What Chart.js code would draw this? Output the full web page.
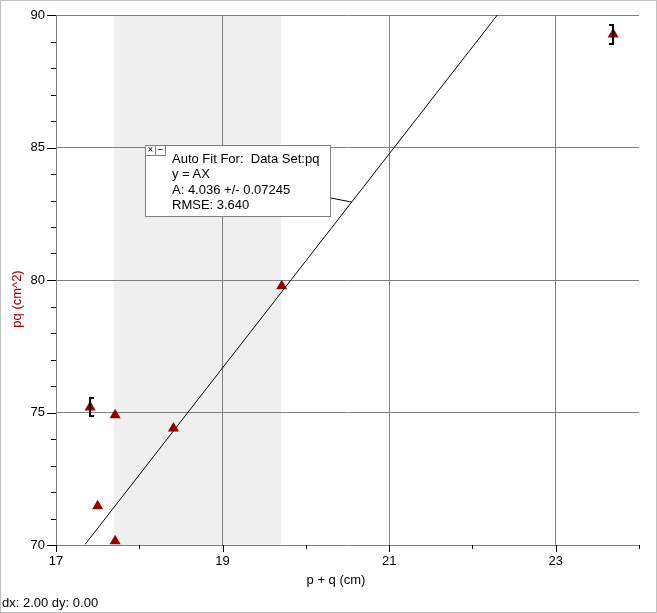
<!DOCTYPE html>
<html lang="en">
<head>
  <meta charset="UTF-8" />
  <title>pq vs p + q</title>
  <script src="https://cdn.jsdelivr.net/npm/chart.js"></script>
  <style>
    body {
      margin: 0;
      background: #fff;
      font-family: Arial, 'Liberation Sans', sans-serif;
    }
    #wrap {
      position: relative;
      width: 657px;
      height: 613px;
      overflow: hidden;
    }
    #frame {
      position: absolute;
      left: 0; top: 0; right: 0; bottom: 0;
      border: 1px solid #c0c0c0;
      pointer-events: none;
    }
    canvas {
      position: absolute;
      left: 0;
      top: 0;
    }
    /* Auto fit annotation */
    .fitbox {
      position: absolute;
      left: 145px;
      top: 145px;
      width: 186px;
      height: 72px;
      box-sizing: border-box;
      border: 1px solid #808080;
      background: #fff;
      font-size: 13px;
      color: #000;
    }
    .fitbox .btn {
      position: absolute;
      top: -1px;
      width: 9px;
      height: 9px;
      border: 1px solid #808080;
      background: #fff;
      font-size: 10px;
      line-height: 8px;
      text-align: center;
    }
    .fitbox .lines {
      position: absolute;
      left: 26px;
      top: 5px;
      line-height: 15.4px;
      white-space: pre;
    }
    .status {
      position: absolute;
      left: 2px;
      top: 595px;
      font-size: 13px;
      color: #000;
    }
  </style>
</head>
<body>
  <div id="wrap">
    <canvas id="chart" width="657" height="613"></canvas>
    <div class="fitbox">
      <div class="btn" style="left:-1px">×</div>
      <div class="btn" style="left:9px">−</div>
      <div class="lines">Auto Fit For:  Data Set:pq
y = AX
A: 4.036 +/- 0.07245
RMSE: 3.640</div>
    </div>
    <div class="status">dx: 2.00 dy: 0.00</div>
    <div id="frame"></div>
  </div>

  <script>
    // Data set pq
    const xValues = [17.41, 17.71, 18.41, 17.50, 17.71, 19.71, 23.69];
    const yValues = [75.20, 74.90, 74.40, 71.47, 70.15, 79.77, 89.27];
    const yErrors = [0.35, 0, 0, 0, 0, 0, 0.35];

    // Auto fit y = A*x
    const fitA = 4.036;
    const fitRangeX = [17.35, 22.3];
    const fitLabelAtX = 20.55;

    // Selected (shaded) x range
    const shadeRange = [17.7, 19.7];

    // Axes
    const xMin = 17, xMax = 24;
    const yMin = 70, yMax = 90;
    const xMajorTicks = [17, 19, 21, 23];
    const yMajorTicks = [70, 75, 80, 85, 90];

    const xTitle = 'p + q (cm)';
    const yTitle = 'pq (cm^2)';

    const points = xValues.map((x, i) => ({ x, y: yValues[i] }));
    const fitPoints = fitRangeX.map(x => ({ x, y: fitA * x }));

    // bracket caps: first one opens right, last one opens left
    const errCapDir = [1, 0, 0, 0, 0, 0, -1];

    const extras = {
      id: 'extras',
      beforeDraw(chart) {
        const { ctx, chartArea: a, scales: { x } } = chart;
        const x0 = Math.round(x.getPixelForValue(shadeRange[0]));
        const x1 = Math.round(x.getPixelForValue(shadeRange[1]));
        ctx.save();
        ctx.fillStyle = '#efefef';
        ctx.fillRect(x0, a.top, x1 - x0, a.bottom - a.top);
        ctx.restore();
      },
      afterDatasetsDraw(chart) {
        const { ctx, scales: { x, y } } = chart;
        ctx.save();
        ctx.strokeStyle = '#000';
        ctx.lineWidth = 2;
        yErrors.forEach((e, i) => {
          if (!e) return;
          const px = Math.round(x.getPixelForValue(xValues[i]));
          const top = Math.round(y.getPixelForValue(yValues[i] + e));
          const bot = Math.round(y.getPixelForValue(yValues[i] - e));
          const d = errCapDir[i] * 4;
          ctx.beginPath();
          ctx.moveTo(px + d, top);
          ctx.lineTo(px, top);
          ctx.lineTo(px, bot);
          ctx.lineTo(px + d, bot);
          ctx.stroke();
        });
        ctx.restore();
      },
      afterDraw(chart) {
        const { ctx, chartArea: a, scales: { x, y } } = chart;
        ctx.save();
        // tick marks
        ctx.strokeStyle = '#000';
        ctx.lineWidth = 1;
        ctx.beginPath();
        for (let v = xMin; v <= xMax; v++) {
          const px = Math.round(x.getPixelForValue(v)) + 0.5;
          const len = xMajorTicks.includes(v) ? 7 : 4;
          ctx.moveTo(px, a.bottom);
          ctx.lineTo(px, a.bottom + len);
        }
        for (let v = yMin; v <= yMax; v++) {
          const py = Math.round(y.getPixelForValue(v)) + 0.5;
          const len = yMajorTicks.includes(v) ? 9 : 5;
          ctx.moveTo(a.left, py);
          ctx.lineTo(a.left - len, py);
        }
        ctx.stroke();

        // connector from fit box to the fit line
        ctx.beginPath();
        ctx.moveTo(331, 198);
        ctx.lineTo(x.getPixelForValue(fitLabelAtX), y.getPixelForValue(fitA * fitLabelAtX));
        ctx.stroke();

        // axis titles
        ctx.font = '13px Arial, "Liberation Sans", sans-serif';
        ctx.textAlign = 'center';
        ctx.textBaseline = 'middle';
        ctx.fillStyle = '#000';
        ctx.fillText(xTitle, 336, 580);
        ctx.translate(17, 299);
        ctx.rotate(-Math.PI / 2);
        ctx.fillStyle = '#a00000';
        ctx.fillText(yTitle, 0, 0);
        ctx.restore();
      }
    };

    new Chart(document.getElementById('chart'), {
      type: 'scatter',
      data: {
        datasets: [
          {
            label: 'pq',
            data: points,
            order: 2,
            pointStyle: 'triangle',
            pointRadius: 6.4,
            pointBorderWidth: 0,
            pointBackgroundColor: '#990000',
            pointBorderColor: '#990000'
          },
          {
            label: 'Auto Fit',
            type: 'line',
            data: fitPoints,
            order: 1,
            showLine: true,
            pointRadius: 0,
            borderColor: '#000',
            borderWidth: 1,
            fill: false
          }
        ]
      },
      options: {
        responsive: false,
        animation: false,
        devicePixelRatio: 1,
        layout: { padding: { left: 0, top: 15, right: 18, bottom: 0 } },
        plugins: {
          legend: { display: false },
          tooltip: { enabled: false }
        },
        scales: {
          x: {
            type: 'linear',
            min: xMin,
            max: xMax,
            afterFit: s => {
              s.height = 68;
              s.paddingLeft = 0;
              s.paddingRight = 0;
            },
            border: { display: false },
            grid: {
              drawTicks: false,
              color: c => xMajorTicks.includes(c.tick.value) ? '#808080' : 'rgba(0,0,0,0)'
            },
            ticks: {
              stepSize: 1,
              autoSkip: false,
              maxRotation: 0,
              padding: 9,
              color: '#000',
              font: { size: 13, family: 'Arial, "Liberation Sans", sans-serif' },
              callback: v => xMajorTicks.includes(v) ? String(v) : ''
            }
          },
          y: {
            type: 'linear',
            min: yMin,
            max: yMax,
            afterFit: s => {
              s.width = 56;
              s.paddingTop = 0;
              s.paddingBottom = 0;
            },
            border: { display: false },
            grid: {
              drawTicks: false,
              color: c => yMajorTicks.includes(c.tick.value) ? '#808080' : 'rgba(0,0,0,0)'
            },
            ticks: {
              stepSize: 1,
              autoSkip: false,
              padding: 11,
              color: '#000',
              font: { size: 13, family: 'Arial, "Liberation Sans", sans-serif' },
              callback: v => yMajorTicks.includes(v) ? String(v) : ''
            }
          }
        }
      },
      plugins: [extras]
    });
  </script>
</body>
</html>
